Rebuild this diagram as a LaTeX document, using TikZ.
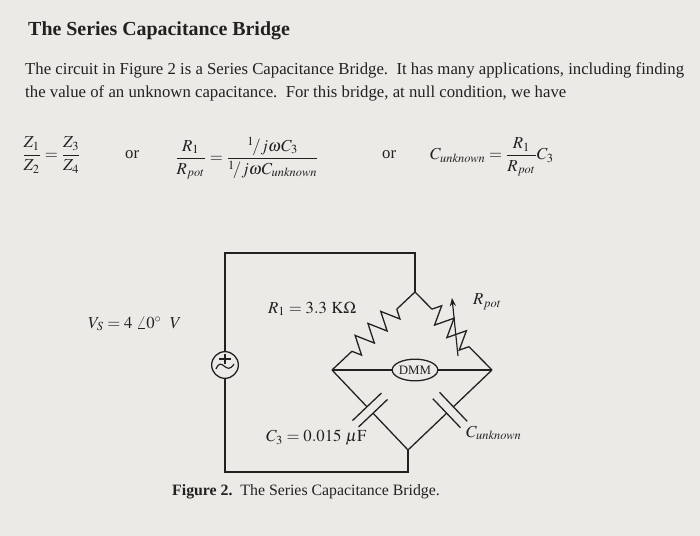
\documentclass[tikz,border=0pt]{standalone}
\usepackage{amsmath}
\usepackage{mathptmx}
\usepackage{fontspec}
\setmainfont{Liberation Serif}
\usetikzlibrary{positioning,calc}
\usetikzlibrary{arrows.meta}
\usetikzlibrary{shapes.geometric}
\usetikzlibrary{decorations.pathmorphing}
\definecolor{paper}{RGB}{236,234,231}
\definecolor{ink}{RGB}{35,32,32}
\tikzset{
  wire/.style={draw=ink, line width=1.1pt},
  resist/.style={wire, decorate, decoration={zigzag, segment length=15pt, amplitude=8pt}},
  plate/.style={draw=ink, line width=1.1pt},
  lbl/.style={text=ink, inner sep=0pt, font=\fontsize{14.3}{16}\selectfont},
}
\begin{document}
\begin{tikzpicture}[x=0.03cm, y=-0.03cm]
  \fill[paper] (0,0) rectangle (700,536);
  \useasboundingbox (0,0) rectangle (700,536);

  % text of the page
  \node[lbl, anchor=west, font=\bfseries\fontsize{17}{19}\selectfont] (title) at (28,31) {The Series Capacitance Bridge};
  \node[lbl, anchor=west] (line_1) at (25,70) {The circuit in Figure 2 is a Series Capacitance Bridge.\ \ It has many applications, including finding};
  \node[lbl, anchor=west] (line_2) at (25,93) {the value of an unknown capacitance.\ \ For this bridge, at null condition, we have};

  \node[lbl, anchor=west] (eq_1) at (22,155) {$\dfrac{Z_1}{Z_2}=\dfrac{Z_3}{Z_4}$};
  \node[lbl, anchor=west] (or_1) at (125,155) {or};
  \node[lbl, anchor=west] (eq_2) at (175,158) {$\dfrac{R_1}{R_{pot}}=\dfrac{{}^{1}\!/j\omega C_3}{{}^{1}\!/j\omega C_{\mathit{unknown}}}$};
  \node[lbl, anchor=west] (or_2) at (382,155) {or};
  \node[lbl, anchor=west] (eq_3) at (430,157) {$C_{\mathit{unknown}}=\dfrac{R_1}{R_{pot}}C_3$};

  % bridge corners
  \coordinate (tl) at (225,253);
  \coordinate (tr) at (415,253);
  \coordinate (top) at (415,292);
  \coordinate (left) at (332,370);
  \coordinate (right) at (492,370);
  \coordinate (bot) at (408,450);
  \coordinate (br) at (408,472);
  \coordinate (bl) at (225,472);

  \node[draw=ink, line width=1.1pt, circle, minimum size=0.8cm, inner sep=0pt] (src) at (225,365) {};
  \node[draw=ink, line width=1.1pt, ellipse, minimum width=1.25cm, minimum height=0.65cm, inner sep=0pt, fill=paper, font=\fontsize{11}{12}\selectfont, text=ink] (dmm) at (415,370) {DMM};

  \draw[wire] (src.north) -- (tl) -- (tr) -- (top);
  \draw[wire] (src.south) -- (bl) -- (br) -- (bot);
  \draw[ink, line width=1pt] ($(src.center)+(-9,4)$) .. controls ($(src.center)+(-3,-10)$) and ($(src.center)+(1,12)$) .. ($(src.center)+(9,-1)$);
  \draw[ink, line width=1pt] ($(src.center)+(-6,-6)$) -- ($(src.center)+(6,-6)$);
  \draw[ink, line width=1pt] ($(src.center)+(0,-11)$) -- ($(src.center)+(0,-1)$);

  % resistors
  \draw[wire] (top) -- ($(top)!0.22!(left)$);
  \draw[resist] ($(top)!0.22!(left)$) -- ($(top)!0.78!(left)$);
  \draw[wire] ($(top)!0.78!(left)$) -- (left);
  \draw[wire] (top) -- ($(top)!0.22!(right)$);
  \draw[resist] ($(top)!0.22!(right)$) -- ($(top)!0.78!(right)$);
  \draw[wire] ($(top)!0.78!(right)$) -- (right);
  \draw[ink, line width=1pt, -{Stealth[length=7pt]}] (458,356) -- (452,298);

  % detector
  \draw[wire] (left) -- (dmm.west);
  \draw[wire] (dmm.east) -- (right);

  % capacitors
  \draw[wire] (left) -- ($(left)!0.46!(bot)$);
  \draw[wire] ($(left)!0.54!(bot)$) -- (bot);
  \draw[plate] ($($(left)!0.46!(bot)$)!0.6cm!90:(bot)$) -- ($($(left)!0.46!(bot)$)!0.6cm!-90:(bot)$);
  \draw[plate] ($($(left)!0.54!(bot)$)!0.6cm!90:(bot)$) -- ($($(left)!0.54!(bot)$)!0.6cm!-90:(bot)$);
  \draw[wire] (right) -- ($(right)!0.46!(bot)$);
  \draw[wire] ($(right)!0.54!(bot)$) -- (bot);
  \draw[plate] ($($(right)!0.46!(bot)$)!0.6cm!90:(bot)$) -- ($($(right)!0.46!(bot)$)!0.6cm!-90:(bot)$);
  \draw[plate] ($($(right)!0.54!(bot)$)!0.6cm!90:(bot)$) -- ($($(right)!0.54!(bot)$)!0.6cm!-90:(bot)$);

  % labels
  \node[lbl, anchor=west] (vs) at (88,324) {$V_S = 4\ \angle 0^\circ\ \ V$};
  \node[lbl, anchor=west] (r_1) at (268,309) {$R_1 = 3.3\ \mathrm{K}\Omega$};
  \node[lbl, anchor=west] (r_pot) at (473,302) {$R_{pot}$};
  \node[lbl, anchor=west] (c_3) at (266,438) {$C_3 = 0.015\ \mu\mathrm{F}$};
  \node[lbl, anchor=west] (c_unk) at (466,433) {$C_{\mathit{unknown}}$};
  \node[lbl, anchor=west, font=\bfseries\fontsize{13.5}{15}\selectfont] (caption) at (172,492) {Figure 2.\ \ \textmd{The Series Capacitance Bridge.}};
\end{tikzpicture}
\end{document}
